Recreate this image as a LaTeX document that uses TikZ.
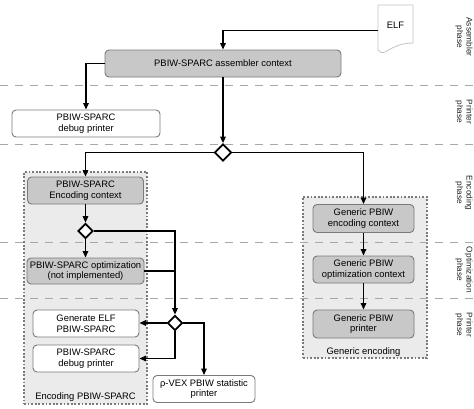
\documentclass[tikz,border=0pt]{standalone}
\usepackage{fontspec}
\setmainfont{Liberation Sans}
\usetikzlibrary{shapes.geometric,arrows.meta}
\definecolor{boxgray}{HTML}{C8C8C8}
\definecolor{edgegray}{HTML}{7A7A7A}
\definecolor{groupfill}{HTML}{EBEBEB}
\definecolor{phaseline}{HTML}{A8A8A8}
\definecolor{elfgray}{HTML}{C4C4C4}
\begin{document}
\begin{tikzpicture}[x=1pt,y=-1pt,
  box/.style={draw=edgegray, line width=0.9pt, rounded corners=4pt, align=center, inner sep=0pt, font=\fontsize{9.4}{10.8}\selectfont},
  ctx/.style={box, fill=boxgray},
  prn/.style={box, fill=white},
  dec/.style={diamond, draw=black, line width=1.7pt, fill=white, inner sep=0pt, minimum size=#1},
  dec/.default=15pt,
  flow/.style={line width=1.4pt, -{Triangle[width=5.5pt,length=6.5pt]}},
  link/.style={line width=1.4pt},
  group/.style={draw=edgegray, line width=1.2pt, dash pattern=on 1.8pt off 1.8pt, fill=groupfill, inner sep=0pt},
  phase/.style={dash pattern=on 8pt off 7pt, draw=phaseline, line width=0.9pt},
  phaselabel/.style={rotate=-90, align=center, font=\fontsize{8.3}{9.3}\selectfont, text=black!85},
  grouplabel/.style={font=\fontsize{9.4}{10.8}\selectfont, inner sep=0pt}
]
\useasboundingbox[fill=white] (0,0) rectangle (474,408);

% groups
\node[group, minimum width=123pt, minimum height=232pt] (gleft) at (85.5,288) {};
\node[group, minimum width=124pt, minimum height=161pt] (gright) at (365,277.5) {};
\node[grouplabel] (gleftlabel) at (85.5,397.5) {Encoding PBIW-SPARC};
\node[grouplabel] (grightlabel) at (363.5,352) {Generic encoding};

% phase separators
\draw[phase] (0,85) -- (474,85);
\draw[phase] (0,144) -- (474,144);
\draw[phase] (0,242) -- (474,242);
\draw[phase] (0,298) -- (474,298);

% phase labels
\node[phaselabel] (p1) at (464,37) {Assembler\\phase};
\node[phaselabel] (p2) at (464,112) {Printer\\phase};
\node[phaselabel] (p3) at (464,193) {Encoding\\phase};
\node[phaselabel] (p4) at (464,270) {Optimization\\phase};
\node[phaselabel] (p5) at (464,325) {Printer\\phase};

% ELF document
\draw[draw=elfgray, fill=white, line width=0.8pt] (378,5) -- (413,5) -- (413,43)
  .. controls (400,43) and (392,48) .. (385,52)
  .. controls (382,53.5) and (379,52) .. (378,50) -- cycle;
\node[font=\fontsize{9.4}{10.8}\selectfont, inner sep=0pt] (elf) at (395.5,25) {ELF};
\coordinate (elfport) at (378,30.5);

% boxes
\node[ctx, minimum width=236pt, minimum height=27pt] (asm) at (223,63.5) {PBIW-SPARC assembler context};
\node[prn, minimum width=148pt, minimum height=27pt] (dbg1) at (86,123.5) {PBIW-SPARC\\debug printer};
\node[dec=17pt] (d1) at (223,152.5) {};
\node[ctx, minimum width=116pt, minimum height=27pt] (enc) at (85.5,190.5) {PBIW-SPARC\\Encoding context};
\node[dec] (d2) at (85.5,231) {};
\node[ctx, minimum width=117pt, minimum height=26pt] (opt) at (85.5,271) {PBIW-SPARC optimization\\(not implemented)};
\node[dec] (d3) at (175,323) {};
\node[prn, minimum width=106pt, minimum height=27pt] (gen) at (86,323.5) {Generate ELF\\PBIW-SPARC};
\node[prn, minimum width=106pt, minimum height=27pt] (dbg2) at (86,358.5) {PBIW-SPARC\\debug printer};
\node[prn, minimum width=102pt, minimum height=27pt] (rvex) at (204,389) {ρ-VEX PBIW statistic\\printer};
\node[ctx, minimum width=101pt, minimum height=28pt] (genc) at (363.5,218.5) {Generic PBIW\\encoding context};
\node[ctx, minimum width=101pt, minimum height=27pt] (gopt) at (363.5,269.5) {Generic PBIW\\optimization context};
\node[ctx, minimum width=101pt, minimum height=28pt] (gpr) at (363.5,324) {Generic PBIW\\printer};

% connectors
\draw[flow] (elfport) -| (asm.north);
\draw[flow] (asm.west) -| (dbg1.north);
\draw[flow] (asm.south) -- (d1.north);
\draw[flow] (d1.west) -| (enc.north);
\draw[flow] (d1.east) -| (genc.north);
\draw[flow] (enc.south) -- (d2.north);
\draw[flow] (d2.south) -- (opt.north);
\draw[flow] (d2.east) -| (d3.north);
\draw[link] (opt.east) -- (opt.east -| d3.north);
\draw[flow] (d3.west) -- (d3.west -| gen.east);
\draw[flow] (d3.south) |- (dbg2.east);
\draw[flow] (d3.east) -| (rvex.north);
\draw[flow] (genc.south) -- (gopt.north);
\draw[flow] (gopt.south) -- (gpr.north);
\end{tikzpicture}
\end{document}
